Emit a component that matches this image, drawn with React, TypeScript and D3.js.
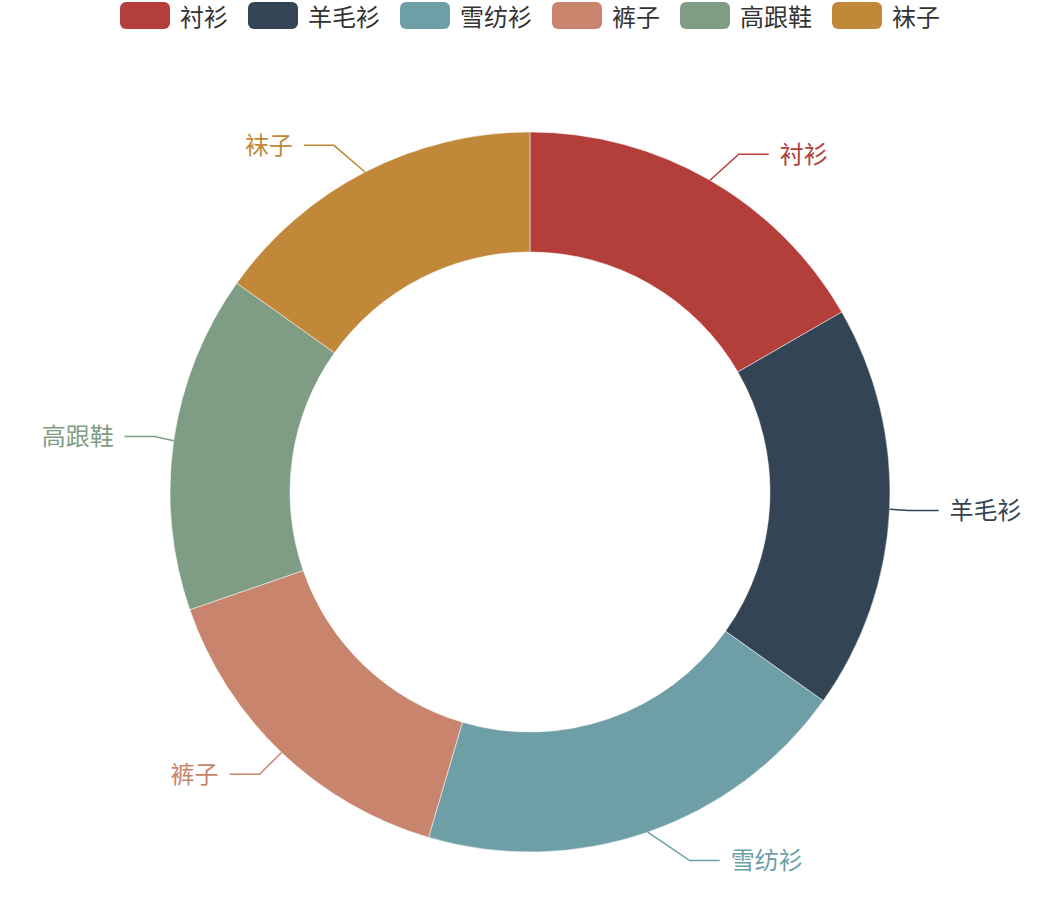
import React from "react";
import * as d3 from "d3";

const categories = ["衬衫", "羊毛衫", "雪纺衫", "裤子", "高跟鞋", "袜子"];
const values = [11, 12, 13, 10, 10, 10];
const colors = ["#b33e3a", "#334454", "#6e9fa6", "#c8846c", "#7e9d84", "#c08838"];

const W = 1048;
const H = 902;
const CX = 530;
const CY = 492;
const R_OUT = 360;
const R_IN = 240;
const LEN1 = 30;
const LEN2 = 30;
const LABEL_A = 409;
const LABEL_B = 416;
const FONT = '"Noto Sans CJK SC", "Noto Sans", sans-serif';

export default function App() {
  const pie = d3.pie<number>().sort(null).value((d) => d);
  const arcs = pie(values);
  const arcGen = d3.arc<d3.PieArcDatum<number>>().innerRadius(R_IN).outerRadius(R_OUT);

  // legend layout
  const fs = 24;
  const iconW = 50;
  const iconH = 27;
  const itemW = categories.map((c) => iconW + 10 + c.length * fs);
  const gap = 20;
  const totalW = d3.sum(itemW) + gap * (categories.length - 1);
  let lx = CX - totalW / 2;
  const legendItems = categories.map((c, i) => {
    const x = lx;
    lx += itemW[i] + gap;
    return { c, x, color: colors[i] };
  });

  const labels = arcs.map((a, i) => {
    const mid = (a.startAngle + a.endAngle) / 2;
    const dx = Math.sin(mid);
    const dy = -Math.cos(mid);
    const x1 = CX + R_OUT * dx;
    const y1 = CY + R_OUT * dy;
    const y2 = y1 + dy * LEN1;
    const dir = dx < 0 ? -1 : 1;
    const t = (y2 - CY) / LABEL_B;
    const x3 = CX + dir * LABEL_A * Math.sqrt(Math.max(0, 1 - t * t));
    const x2 = x3 - dir * LEN2;
    return { x1, y1, x2, y2, x3, dir, name: categories[i], color: colors[i] };
  });

  return (
    <svg
      width={W}
      height={H}
      style={{ position: "absolute", left: 0, top: 0, background: "#fff" }}
      fontFamily={FONT}
    >
      <g transform={`translate(${CX},${CY})`}>
        {arcs.map((a, i) => (
          <path key={i} d={arcGen(a) || ""} fill={colors[i]} stroke="#fff" strokeWidth={0.5} />
        ))}
      </g>
      {labels.map((l, i) => (
        <g key={i}>
          <polyline
            points={`${l.x1},${l.y1} ${l.x2},${l.y2} ${l.x3},${l.y2}`}
            fill="none"
            stroke={l.color}
            strokeWidth={1.5}
          />
          <text
            x={l.x3 + l.dir * 11}
            y={l.y2 - 2}
            fill={l.color}
            fontSize={fs}
            dominantBaseline="central"
            textAnchor={l.dir < 0 ? "end" : "start"}
          >
            {l.name}
          </text>
        </g>
      ))}
      {legendItems.map((it, i) => (
        <g key={i}>
          <rect x={it.x} y={2} width={iconW} height={iconH} rx={6} ry={6} fill={it.color} />
          <text
            x={it.x + iconW + 10}
            y={15}
            fill="#333"
            fontSize={fs}
            dominantBaseline="central"
          >
            {it.c}
          </text>
        </g>
      ))}
    </svg>
  );
}
